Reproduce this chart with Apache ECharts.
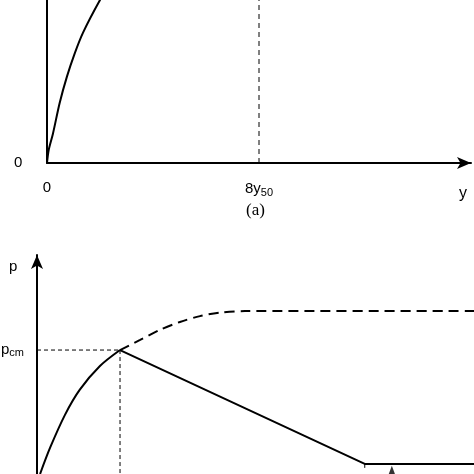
<!DOCTYPE html>
<html><head><meta charset="utf-8">
<script src="https://cdn.jsdelivr.net/npm/echarts@6/dist/echarts.min.js"></script>
<style>html,body{margin:0;background:#fff}#c{width:474px;height:474px}</style>
</head><body><div id="c"></div>
<script>
// panel (a): rising curve, clipped at top
var topCurve = [[0,0],[0.04,0.08],[0.14,0.18],[0.3,0.37],[0.47,0.53],[0.65,0.67],[0.85,0.8],[1.25,1.0],[1.6,1.15]];
var topDash = [[5,0],[5,1]];
// panel (b)
var botCurve = [[0.07,0],[0.3,0.12],[0.64,0.27],[0.98,0.385],[1.44,0.493],[1.9,0.566]];
var botCurveDash = [[1.9,0.566],[2.36,0.612],[2.81,0.658],[3.27,0.694],[3.73,0.721],[4.19,0.737],[4.76,0.744],[10,0.744]];
var botSoft = [[1.9,0.566],[7.5,0.046],[10,0.046]];
var pcmH = [[0,0.566],[1.9,0.566]];
var pcmV = [[1.9,0.566],[1.9,0]];
var tick = [[7.5,0.046],[7.5,0.028]];
var arrowPt = [[8.12,0.01]];

var chart = echarts.init(document.getElementById('c'));
var font = 'Liberation Sans';
var txt = function(t,l,tp,sz,fam){return {type:'text',left:l,top:tp,style:{text:t,fontSize:sz,fontFamily:fam||font,fill:'#000'}};};
var rich = {a:{fontSize:15,fontFamily:font,color:'#000'},s:{fontSize:11,fontFamily:font,color:'#000',padding:[7,0,0,0]}};
chart.setOption({
  animation:false,
  grid:[{left:47,top:0,width:425,height:163},{left:37,top:255,width:437,height:219}],
  xAxis:[
    {gridIndex:0,type:'value',min:0,max:10,interval:5,
     axisLine:{show:true,onZero:false,symbol:['none','arrow'],symbolSize:[9,14],lineStyle:{color:'#000',width:2}},
     axisTick:{show:false},splitLine:{show:false},
     axisLabel:{margin:17,color:'#000',fontFamily:font,fontSize:15,
       formatter:function(v){return v===0?'0':(v===5?'{a|8y}{s|50}':'');},rich:rich}},
    {gridIndex:1,type:'value',min:0,max:10,show:false}
  ],
  yAxis:[
    {gridIndex:0,type:'value',min:0,max:1,axisLine:{show:true,onZero:false,lineStyle:{color:'#000',width:2}},
     axisTick:{show:false},splitLine:{show:false},axisLabel:{show:false}},
    {gridIndex:1,type:'value',min:0,max:1,
     axisLine:{show:true,onZero:false,symbol:['none','arrow'],symbolSize:[9,14],lineStyle:{color:'#000',width:2}},
     axisTick:{show:false},splitLine:{show:false},axisLabel:{show:false}}
  ],
  graphic:[
    txt('0',14,155,15),
    txt('y',459,186,16),
    txt('(a)',246,202,17,'Liberation Serif'),
    txt('p',9,259,15),
    {type:'text',left:1,top:342,style:{rich:rich,text:'{a|p}{s|cm}',fill:'#000'}}
  ],
  series:[
    {type:'line',xAxisIndex:0,yAxisIndex:0,data:topCurve,smooth:0.3,showSymbol:false,lineStyle:{color:'#000',width:2}},
    {type:'line',xAxisIndex:0,yAxisIndex:0,data:topDash,showSymbol:false,lineStyle:{color:'#000',width:1,type:[5,4]}},
    {type:'line',xAxisIndex:1,yAxisIndex:1,data:botCurve,smooth:0.3,showSymbol:false,lineStyle:{color:'#000',width:2}},
    {type:'line',xAxisIndex:1,yAxisIndex:1,data:botCurveDash,smooth:0.3,showSymbol:false,lineStyle:{color:'#000',width:2,type:[10,6]}},
    {type:'line',xAxisIndex:1,yAxisIndex:1,data:botSoft,showSymbol:false,lineStyle:{color:'#000',width:2}},
    {type:'line',xAxisIndex:1,yAxisIndex:1,data:pcmH,showSymbol:false,lineStyle:{color:'#000',width:1,type:[4,3]}},
    {type:'line',xAxisIndex:1,yAxisIndex:1,data:pcmV,showSymbol:false,lineStyle:{color:'#000',width:1,type:[4,3]}},
    {type:'line',xAxisIndex:1,yAxisIndex:1,data:tick,showSymbol:false,lineStyle:{color:'#000',width:1}},
    {type:'scatter',xAxisIndex:1,yAxisIndex:1,data:arrowPt,symbol:'triangle',symbolSize:[9,12],itemStyle:{color:'#000'}}
  ]
});
</script></body></html>
